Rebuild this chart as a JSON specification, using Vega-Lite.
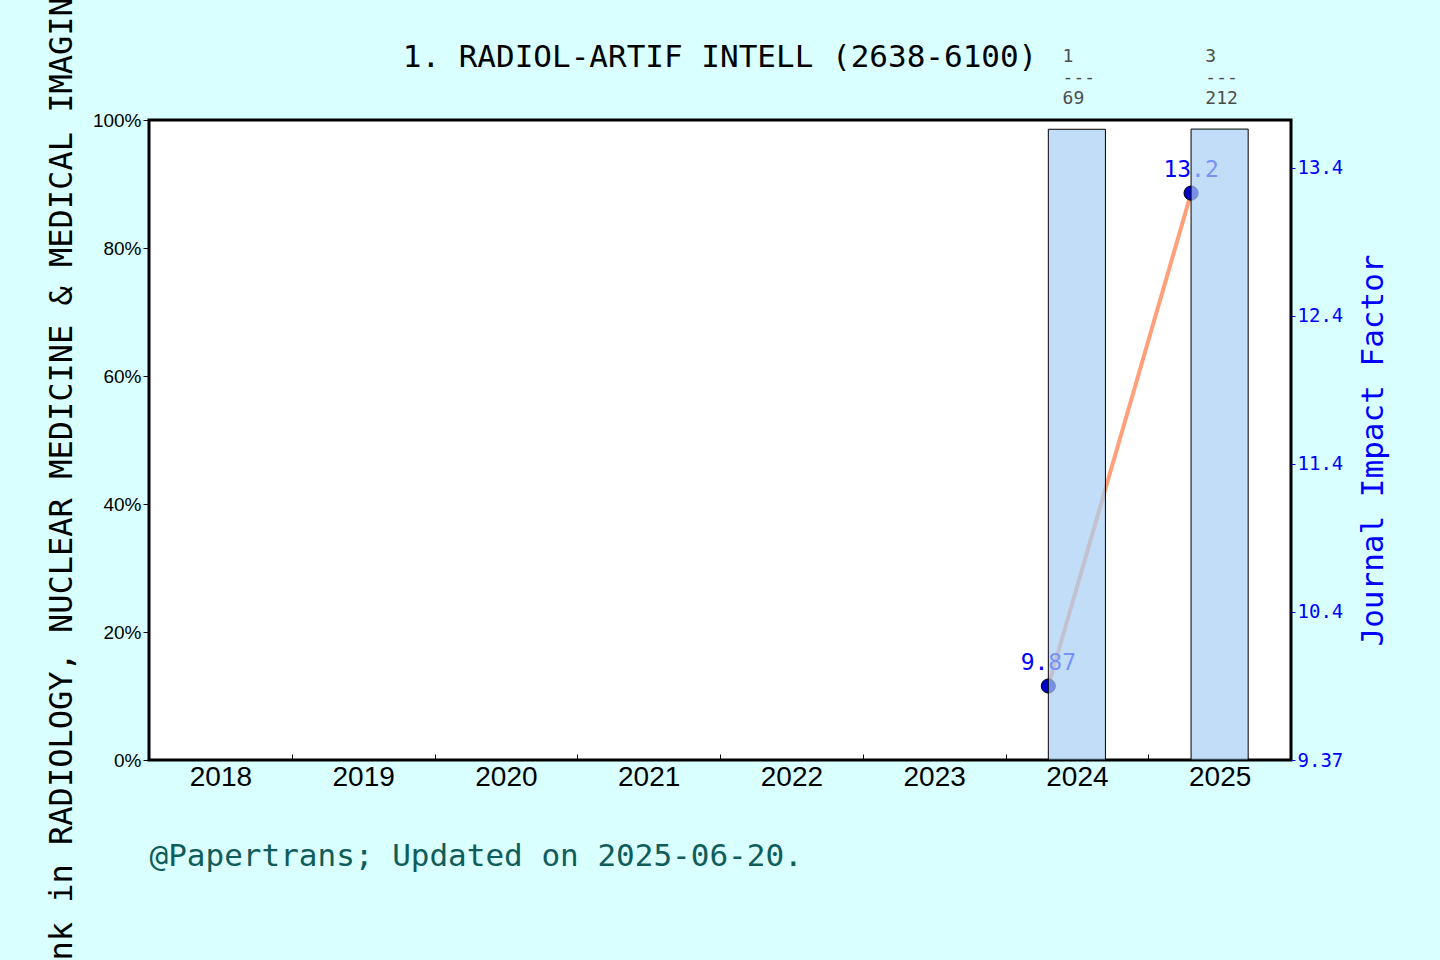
{
  "$schema": "https://vega.github.io/schema/vega-lite/v6.json",
  "width": 1142,
  "height": 640,
  "autosize": {"type": "none"},
  "padding": {"left": 149, "top": 120, "right": 149, "bottom": 200},
  "background": "#d9ffff",
  "title": {
    "text": "1. RADIOL-ARTIF INTELL (2638-6100)",
    "font": "DejaVu Sans Mono",
    "fontSize": 31,
    "fontWeight": "normal",
    "color": "#000000",
    "frame": "group",
    "anchor": "middle",
    "baseline": "bottom",
    "offset": -128
  },
  "config": {
    "view": {"fill": "white", "stroke": "black", "strokeWidth": 3},
    "axis": {"domain": false, "grid": false}
  },
  "data": {
    "values": [
      {"year": 2018},
      {"year": 2019},
      {"year": 2020},
      {"year": 2021},
      {"year": 2022},
      {"year": 2023},
      {"year": 2024, "jif": 9.87, "pct": 0.9855, "rank": "1\n---\n69"},
      {"year": 2025, "jif": 13.2, "pct": 0.9858, "rank": "3\n---\n212"}
    ]
  },
  "layer": [
    {
      "encoding": {
        "x": {
          "field": "year",
          "type": "ordinal",
          "bandPosition": 0.3,
          "scale": {"type": "band", "domain": [2018, 2019, 2020, 2021, 2022, 2023, 2024, 2025], "paddingInner": 0, "paddingOuter": 0},
          "axis": {
            "title": "@Papertrans; Updated on 2025-06-20.",
            "titleFont": "DejaVu Sans Mono",
            "titleFontSize": 31,
            "titleFontWeight": "normal",
            "titleColor": "#0f5c5a",
            "titleAnchor": "start",
            "titleAlign": "left",
            "titleBaseline": "top",
            "titlePadding": 50,
            "labelAngle": 0,
            "labelFont": "Liberation Sans",
            "labelFontSize": 28,
            "labelColor": "#000000",
            "labelPadding": 9,
            "tickBand": "extent",
            "tickSize": -6,
            "tickColor": "#000000",
            "tickWidth": 1
          }
        },
        "y": {
          "field": "jif",
          "type": "quantitative",
          "scale": {"domain": [9.37, 13.694], "nice": false, "zero": false},
          "axis": {
            "orient": "right",
            "title": "Journal Impact Factor",
            "titleFont": "DejaVu Sans Mono",
            "titleFontSize": 31,
            "titleFontWeight": "normal",
            "titleColor": "#0000ff",
            "titleAngle": 270,
            "titlePadding": 47,
            "titleY": 330,
            "values": [9.37, 10.37, 11.37, 12.37, 13.37],
            "format": ".3r",
            "labelFont": "DejaVu Sans Mono",
            "labelFontSize": 19,
            "labelColor": "#0000ff",
            "labelPadding": 2,
            "tickColor": "#0000ff",
            "tickSize": 4,
            "tickWidth": 1
          }
        }
      },
      "layer": [
        {"mark": {"type": "line", "color": "#ffa07a", "strokeWidth": 4}},
        {"mark": {"type": "point", "filled": true, "fill": "#0000cd", "stroke": "#000000", "strokeWidth": 1, "size": 200, "opacity": 1}},
        {
          "mark": {"type": "text", "font": "DejaVu Sans Mono", "fontSize": 23, "color": "#0000ff", "align": "center", "baseline": "alphabetic", "dy": -16},
          "encoding": {"text": {"field": "jif", "type": "nominal"}}
        }
      ]
    },
    {
      "encoding": {
        "x": {
          "field": "year",
          "type": "ordinal",
          "scale": {"type": "band", "domain": [2018, 2019, 2020, 2021, 2022, 2023, 2024, 2025], "paddingInner": 0, "paddingOuter": 0}
        }
      },
      "layer": [
        {
          "mark": {"type": "bar", "width": {"band": 0.4}, "fill": "#a8cff5", "fillOpacity": 0.7, "stroke": "#000000", "strokeWidth": 1},
          "encoding": {
            "y": {
              "field": "pct",
              "type": "quantitative",
              "scale": {"domain": [0, 1], "nice": false},
              "axis": {
                "orient": "left",
                "title": "Rank in RADIOLOGY, NUCLEAR MEDICINE & MEDICAL IMAGING",
                "titleFont": "DejaVu Sans Mono",
                "titleFontSize": 32,
                "titleFontWeight": "normal",
                "titleColor": "#000000",
                "titlePadding": 14,
                "titleY": 368,
                "values": [0, 0.2, 0.4, 0.6, 0.8, 1],
                "format": ".0%",
                "labelFont": "Liberation Sans",
                "labelFontSize": 19,
                "labelColor": "#000000",
                "labelPadding": 2,
                "tickColor": "#000000",
                "tickSize": 6,
                "tickWidth": 1
              }
            }
          }
        },
        {
          "transform": [{"filter": "datum.rank != null"}],
          "mark": {"type": "text", "font": "DejaVu Sans Mono", "fontSize": 18, "color": "#4d4d4d", "align": "left", "baseline": "middle", "lineBreak": "\n", "lineHeight": 21, "dy": -63},
          "encoding": {
            "x": {"field": "year", "type": "ordinal", "bandPosition": 0.4},
            "y": {"datum": 1},
            "text": {"field": "rank", "type": "nominal"}
          }
        }
      ]
    }
  ],
  "resolve": {"scale": {"y": "independent"}}
}
